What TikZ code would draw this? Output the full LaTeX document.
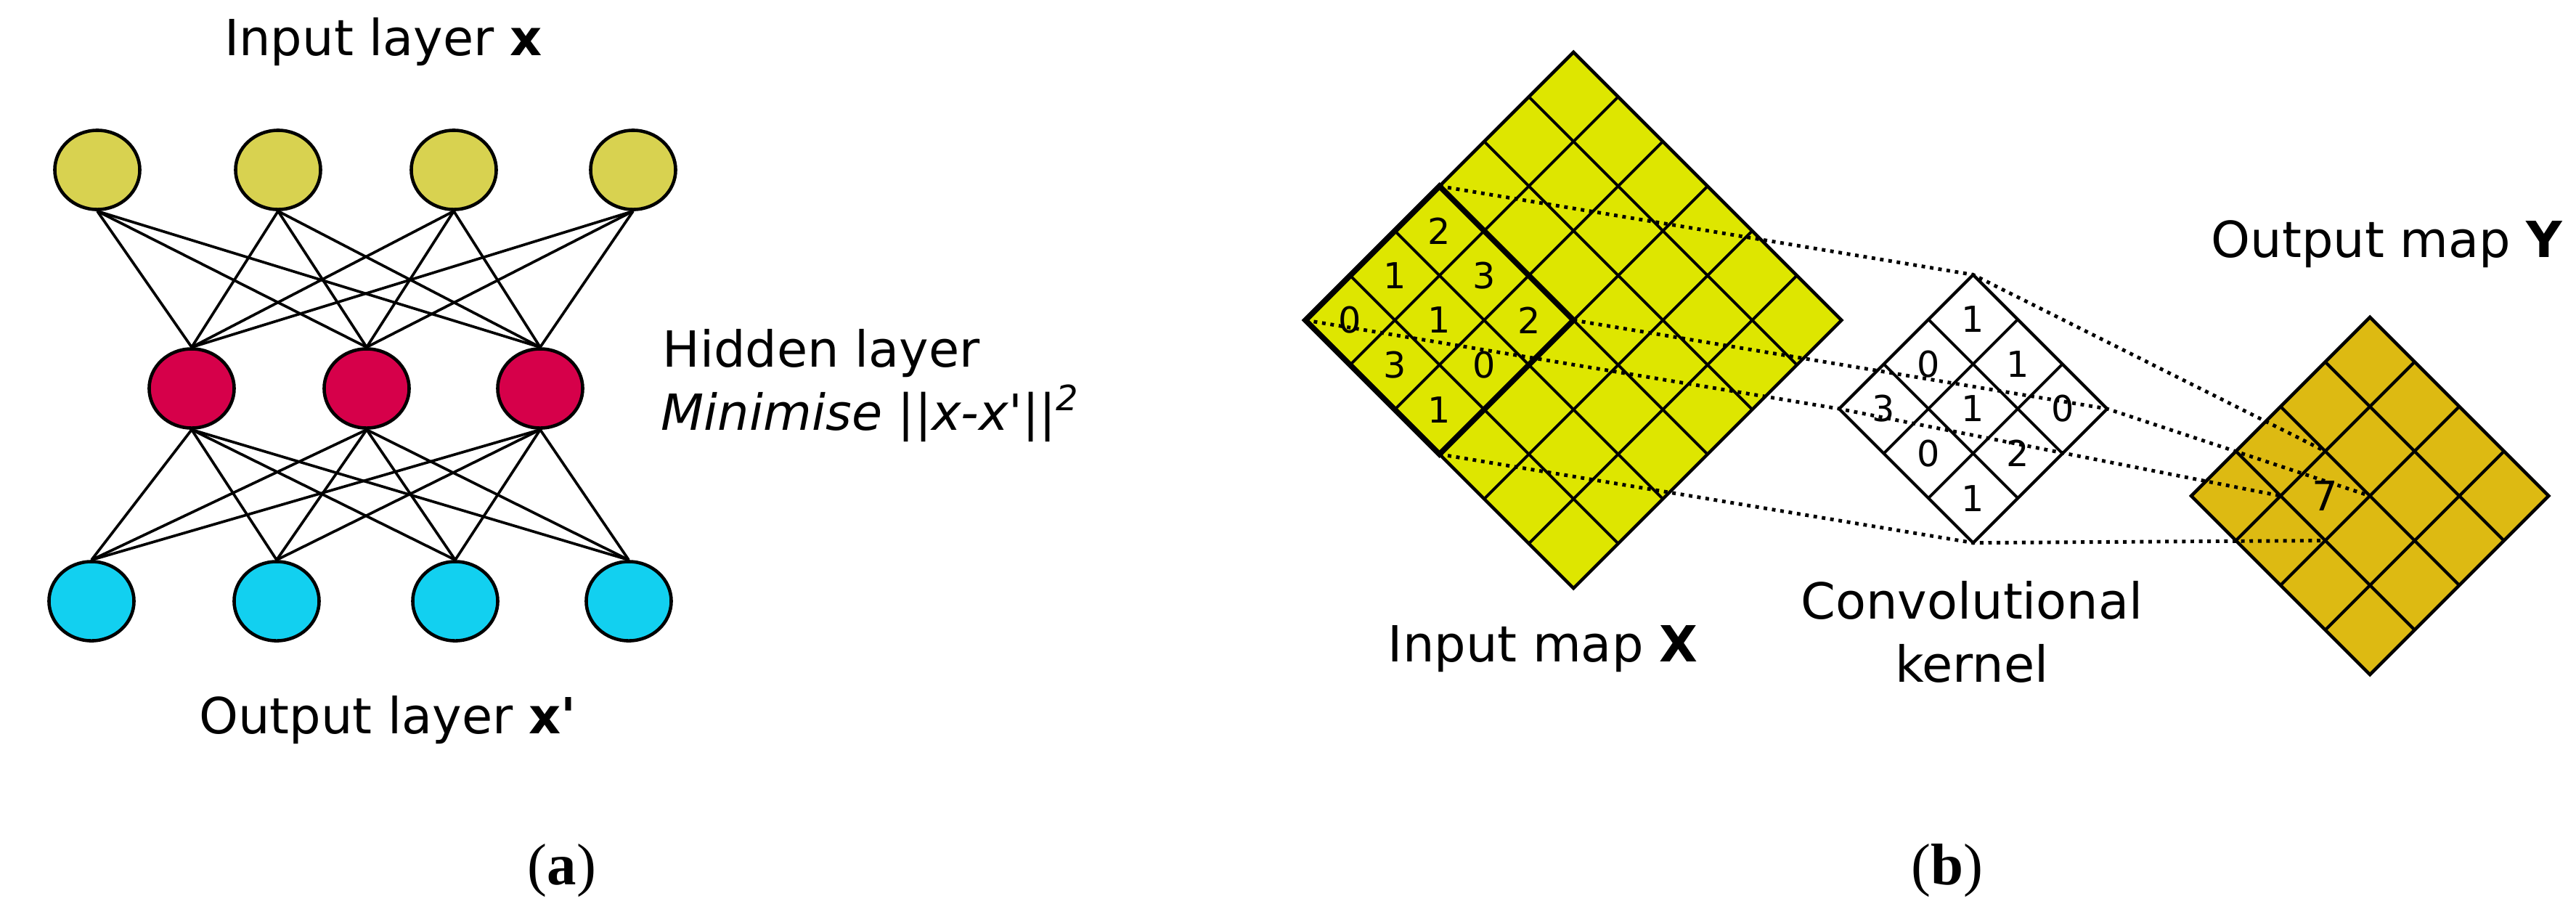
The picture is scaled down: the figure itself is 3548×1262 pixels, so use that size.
\documentclass[tikz,border=0pt]{standalone}
\usepackage{fontspec}
\setmainfont{DejaVu Sans}
\newfontfamily\tagfont{Liberation Serif}
\usetikzlibrary{shapes.geometric}
\definecolor{inyellow}{HTML}{D8D250}
\definecolor{hidred}{HTML}{D6004A}
\definecolor{outcyan}{HTML}{12D0F0}
\definecolor{mapyellow}{HTML}{DEE600}
\definecolor{mapgold}{HTML}{DDBA12}
\begin{document}
\begin{tikzpicture}[x=0.01cm, y=-0.01cm,
  neuron/.style={draw, ellipse, line width=1.3pt, minimum width=1.17cm, minimum height=1.09cm, inner sep=0pt},
  link/.style={line width=1.05pt},
  caption/.style={font=\fontsize{19.5}{23}\selectfont, inner sep=0pt},
  digit/.style={font=\fontsize{14}{16}\selectfont, inner sep=0pt},
  tag/.style={font=\tagfont\fontsize{23}{27}\selectfont, inner sep=0pt},
  diag/.style={x={(0.615cm,0.615cm)}, y={(0.615cm,-0.615cm)}},
  gridline/.style={line width=1.1pt},
  track/.style={line width=1.4pt, dash pattern=on 1.4pt off 1.9pt}]
\useasboundingbox (0,0) rectangle (3548,1262);

\node[neuron, fill=inyellow] (in1) at (134,234) {};
\node[neuron, fill=inyellow] (in2) at (383,234) {};
\node[neuron, fill=inyellow] (in3) at (625,234) {};
\node[neuron, fill=inyellow] (in4) at (872,234) {};

\node[neuron, fill=hidred] (hid1) at (264,535) {};
\node[neuron, fill=hidred] (hid2) at (505,535) {};
\node[neuron, fill=hidred] (hid3) at (744,535) {};

\node[neuron, fill=outcyan] (out1) at (126,828) {};
\node[neuron, fill=outcyan] (out2) at (381,828) {};
\node[neuron, fill=outcyan] (out3) at (627,828) {};
\node[neuron, fill=outcyan] (out4) at (866,828) {};

\foreach \i in {1,...,4}
  \foreach \j in {1,2,3}
    {\draw[link] (in\i.south) -- (hid\j.north);
     \draw[link] (hid\j.south) -- (out\i.north);}

\node[caption, anchor=base] (inlabel) at (528,76) {Input layer \textbf{x}};
\node[caption, anchor=base west] (hidlabel) at (912,505) {Hidden layer};
\node[caption, anchor=base west] (minlabel) at (910,592) {\textit{Minimise ||x-x\textquotesingle||\textsuperscript{2}}};
\node[caption, anchor=base] (outlabel) at (534,1010) {Output layer \textbf{x\textquotesingle}};
\node[tag, anchor=base] (taga) at (774,1218) {(\textbf{a})};

\begin{scope}[shift={(1798,441)}, diag]
\fill[mapyellow] (0,0) -- (6,0) -- (6,6) -- (0,6) -- cycle;
\foreach \k in {1,...,5}
  {\draw[gridline] (\k,0) -- (\k,6);
   \draw[gridline] (0,\k) -- (6,\k);}
\draw[line width=1.3pt] (0,0) -- (6,0) -- (6,6) -- (0,6) -- cycle;
\draw[line width=2.2pt] (0,0) -- (3,0) -- (3,3) -- (0,3) -- cycle;
\foreach \a/\b/\v in {0/0/0, 1/0/1, 2/0/2, 0/1/3, 1/1/1, 2/1/3, 0/2/1, 1/2/0, 2/2/2}
  \node[digit] (xin\a\b) at (\a+0.5,\b+0.5) {\v};
\coordinate (xl) at (0,0);
\coordinate (xt) at (3,0);
\coordinate (xr) at (3,3);
\coordinate (xb) at (0,3);
\end{scope}

\begin{scope}[shift={(2533,563)}, diag]
\fill[white] (0,0) -- (3,0) -- (3,3) -- (0,3) -- cycle;
\foreach \k in {1,2}
  {\draw[gridline] (\k,0) -- (\k,3);
   \draw[gridline] (0,\k) -- (3,\k);}
\draw[line width=1.2pt] (0,0) -- (3,0) -- (3,3) -- (0,3) -- cycle;
\foreach \a/\b/\v in {0/0/3, 1/0/0, 2/0/1, 0/1/0, 1/1/1, 2/1/1, 0/2/1, 1/2/2, 2/2/0}
  \node[digit] (ker\a\b) at (\a+0.5,\b+0.5) {\v};
\coordinate (kl) at (0,0);
\coordinate (kt) at (3,0);
\coordinate (kr) at (3,3);
\coordinate (kb) at (0,3);
\end{scope}

\begin{scope}[shift={(3018,683)}, diag]
\fill[mapgold] (0,0) -- (4,0) -- (4,4) -- (0,4) -- cycle;
\foreach \k in {1,2,3}
  {\draw[line width=1.2pt] (\k,0) -- (\k,4);
   \draw[line width=1.2pt] (0,\k) -- (4,\k);}
\draw[line width=1.3pt] (0,0) -- (4,0) -- (4,4) -- (0,4) -- cycle;
\node[digit, font=\fontsize{16}{18}\selectfont] (yseven) at (1.5,1.5) {7};
\coordinate (yl) at (1,1);
\coordinate (yt) at (2,1);
\coordinate (yr) at (2,2);
\coordinate (yb) at (1,2);
\end{scope}

\draw[track] (xt) -- (kt) -- (yt);
\draw[track] (xr) -- (kr) -- (yr);
\draw[track] (xl) -- (kl) -- (yl);
\draw[track] (xb) -- (kb) -- (yb);

\node[caption, anchor=base] (xlabel) at (2125,911) {Input map \textbf{X}};
\node[caption, anchor=base] (klabel) at (2716,852) {Convolutional};
\node[caption, anchor=base] (klabel2) at (2716,939) {kernel};
\node[caption, anchor=base west] (ylabel) at (3045,354) {Output map \textbf{Y}};
\node[tag, anchor=base] (tagb) at (2682,1218) {(\textbf{b})};
\end{tikzpicture}
\end{document}
